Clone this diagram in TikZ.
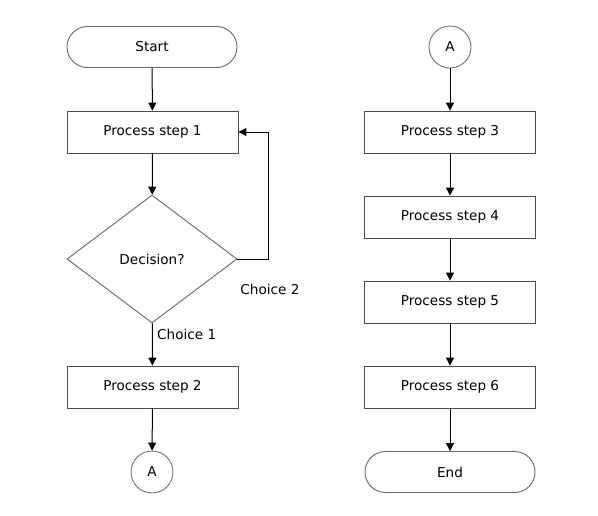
\documentclass[tikz,border=0pt]{standalone}
\usepackage{fontspec}
\setmainfont{DejaVu Sans}
\usetikzlibrary{shapes.geometric,shapes.misc,arrows.meta}
\begin{document}
\begin{tikzpicture}[x=1pt,y=-1pt,
  every node/.style={font=\fontsize{13.6}{15}\selectfont},
  box/.style={draw=black!70,line width=0.9pt,minimum width=171pt,minimum height=42pt,inner sep=0pt},
  term/.style={draw=black!60,line width=0.9pt,rounded rectangle,minimum width=170pt,minimum height=41pt,inner sep=0pt},
  dec/.style={draw=black!60,line width=0.9pt,diamond,minimum width=170pt,minimum height=128pt,inner sep=0pt},
  conn/.style={draw=black!55,line width=0.9pt,circle,minimum size=42pt,inner sep=0pt},
  arr/.style={draw=black,line width=1pt,-{Triangle[width=8pt,length=8pt]}},
  lbl/.style={inner sep=0pt}]
\useasboundingbox (0,0) rectangle (598,515);
\node[term] (start) at (152,47) {Start};
\node[box] (p1) at (152.5,132) {Process step 1};
\node[dec] (d) at (152,259) {Decision?};
\node[box] (p2) at (152.5,387) {Process step 2};
\node[conn] (a1) at (152,472) {A};
\coordinate (loop) at (268,259);
\node[lbl] (c2) at (270,289) {Choice 2};
\node[lbl,anchor=west] (c1) at (157,334) {Choice 1};

\node[conn] (a2) at (450,47) {A};
\node[box] (p3) at (450,132) {Process step 3};
\node[box] (p4) at (450,217) {Process step 4};
\node[box] (p5) at (450,302) {Process step 5};
\node[box] (p6) at (450,387) {Process step 6};
\node[term] (stop) at (450,472) {End};

\draw[arr] (start) -- (p1);
\draw[arr] (p1) -- (d);
\draw[arr] (d.east) -- (loop) |- (p1.east);
\draw[arr] (d) -- (p2);
\draw[arr] (p2) -- (a1);
\draw[arr] (a2) -- (p3);
\draw[arr] (p3) -- (p4);
\draw[arr] (p4) -- (p5);
\draw[arr] (p5) -- (p6);
\draw[arr] (p6) -- (stop);
\end{tikzpicture}
\end{document}
